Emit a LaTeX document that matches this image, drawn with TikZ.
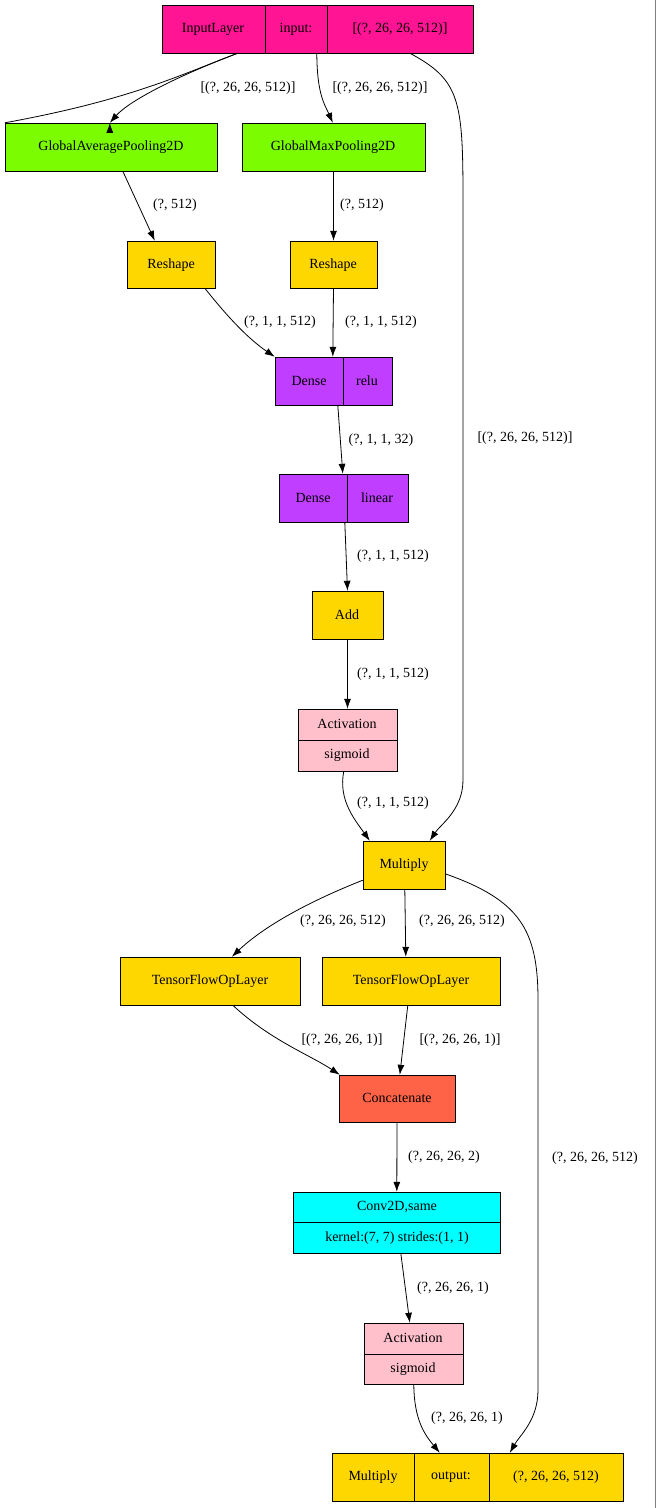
\documentclass[tikz,border=0pt]{standalone}
\usepackage{fontspec}
\setmainfont{Liberation Serif}
\usetikzlibrary{arrows.meta,calc}
\definecolor{cin}{HTML}{FF1493}
\definecolor{cgr}{HTML}{7CFC00}
\definecolor{cgo}{HTML}{FFD700}
\definecolor{cpu}{HTML}{BF3EFF}
\definecolor{cpk}{HTML}{FFC0CB}
\definecolor{cto}{HTML}{FF6347}
\definecolor{ccy}{HTML}{00FFFF}
\newcommand{\bx}[6]{\node[box,fill=#6,minimum width={(#4-#2)*1pt},minimum height={(#5-#3)*1pt}] (#1) at ({(#2+#4)/2},{(#3+#5)/2}) {};}
\newcommand{\tx}[3]{\node[txt] at (#1,#2) {#3};}
\begin{document}
\begin{tikzpicture}[x=1pt,y=-1pt,
  box/.style={draw,inner sep=0pt},
  txt/.style={inner sep=0pt,font=\fontsize{14}{16}\selectfont},
  lab/.style={inner sep=0pt,font=\fontsize{14}{16}\selectfont},
  ar/.style={-{Latex[length=10pt,width=7pt]},line width=0.8pt}]
\useasboundingbox[fill=white] (0,0) rectangle (657,1508);
\draw[gray,line width=1pt] (655,0) -- (655,1508);
% boxes
\bx{in}{162}{5}{473}{53}{cin}
\draw (265,5) -- (265,53) (327,5) -- (327,53);
\tx{213}{29}{InputLayer}\tx{296}{29}{input:}\tx{400}{29}{[(?, 26, 26, 512)]}
\bx{gap}{5}{123}{217}{171}{cgr}\tx{111}{147}{GlobalAveragePooling2D}
\bx{gmp}{242}{123}{425}{171}{cgr}\tx{333}{147}{GlobalMaxPooling2D}
\bx{r1}{127}{241}{215}{288}{cgo}\tx{171}{265}{Reshape}
\bx{r2}{290}{241}{377}{288}{cgo}\tx{333}{265}{Reshape}
\bx{d1}{275}{357}{392}{405}{cpu}\draw (343,357) -- (343,405);
\tx{309}{381}{Dense}\tx{367}{381}{relu}
\bx{d2}{279}{474}{408}{522}{cpu}\draw (347,474) -- (347,522);
\tx{313}{498}{Dense}\tx{377}{498}{linear}
\bx{add}{312}{591}{383}{639}{cgo}\tx{347}{615}{Add}
\bx{a1}{298}{709}{397}{771}{cpk}\draw (298,740) -- (397,740);
\tx{347}{724}{Activation}\tx{347}{755}{sigmoid}
\bx{mul}{363}{841}{445}{889}{cgo}\tx{404}{865}{Multiply}
\bx{t1}{120}{957}{300}{1005}{cgo}\tx{210}{981}{TensorFlowOpLayer}
\bx{t2}{322}{957}{500}{1005}{cgo}\tx{411}{981}{TensorFlowOpLayer}
\bx{cat}{339}{1075}{455}{1122}{cto}\tx{397}{1098}{Concatenate}
\bx{cv}{293}{1192}{500}{1253}{ccy}\draw (293,1222) -- (500,1222);
\tx{397}{1207}{Conv2D,same}\tx{397}{1238}{kernel:(7, 7) strides:(1, 1)}
\bx{a2}{364}{1323}{463}{1384}{cpk}\draw (364,1354) -- (463,1354);
\tx{413}{1338}{Activation}\tx{413}{1369}{sigmoid}
\bx{out}{332}{1453}{623}{1501}{cgo}\draw (414,1453) -- (414,1501) (489,1453) -- (489,1501);
\tx{373}{1477}{Multiply}\tx{451}{1477}{output:}\tx{556}{1477}{(?, 26, 26, 512)}
% edges
\draw[ar] (in.south west)++(76,0) .. controls (180,75) and (130,100) .. (gap.north west)+(105,0);
\draw[ar] ($(in.south west)+(76,0)$) .. controls (180,75) and (130,100) .. ($(gap.north west)+(105,0)$);
\draw[ar] ($(in.south west)+(155,0)$) .. controls (317,95) and (325,105) .. ($(gmp.north west)+(91,0)$);
\draw[ar] ($(in.south west)+(248,0)$) .. controls (460,80) and (463,100) .. (463,200) -- (463,780) .. controls (463,810) and (440,825) .. ($(mul.north west)+(67,0)$);
\draw[ar] ($(gap.south west)+(118,0)$) -- ($(r1.north west)+(28,0)$);
\draw[ar] (gmp.south -| r2.north) -- (r2.north);
\draw[ar] ($(r1.south west)+(78,0)$) .. controls (230,320) and (250,340) .. ($(d1.north west)+(0,0)$);
\draw[ar] (r2.south) -- ($(d1.north west)+(58,0)$);
\draw[ar] ($(d1.south west)+(63,0)$) -- ($(d2.north west)+(64,0)$);
\draw[ar] ($(d2.south west)+(66,0)$) -- (add.north);
\draw[ar] (add.south) -- (a1.north);
\draw[ar] ($(a1.south west)+(46,0)$) .. controls (338,800) and (355,820) .. ($(mul.north west)+(7,0)$);
\draw[ar] ($(mul.south west)+(0,-9)$) .. controls (300,905) and (260,930) .. ($(t1.north west)+(112,0)$);
\draw[ar] ($(mul.south west)+(42,0)$) -- ($(t2.north west)+(84,0)$);
\draw[ar] ($(mul.north east)+(0,33)$) .. controls (520,900) and (538,930) .. (538,1000) -- (538,1390) .. controls (538,1420) and (520,1435) .. ($(out.north west)+(178,0)$);
\draw[ar] ($(t1.south west)+(113,0)$) .. controls (270,1040) and (310,1055) .. ($(cat.north west)+(1,0)$);
\draw[ar] ($(t2.south west)+(86,0)$) -- ($(cat.north west)+(61,0)$);
\draw[ar] (cat.south) -- ($(cv.north west)+(104,0)$);
\draw[ar] ($(cv.south west)+(108,0)$) -- ($(a2.north west)+(46,0)$);
\draw[ar] ($(a2.south west)+(50,0)$) .. controls (414,1420) and (425,1435) .. ($(out.north west)+(108,0)$);
% labels
\node[lab] at (248,88) {[(?, 26, 26, 512)]};
\node[lab] at (380,88) {[(?, 26, 26, 512)]};
\node[lab] at (525,438) {[(?, 26, 26, 512)]};
\node[lab] at (175,205) {(?, 512)};
\node[lab] at (362,205) {(?, 512)};
\node[lab] at (280,322) {(?, 1, 1, 512)};
\node[lab] at (381,322) {(?, 1, 1, 512)};
\node[lab] at (381,440) {(?, 1, 1, 32)};
\node[lab] at (393,556) {(?, 1, 1, 512)};
\node[lab] at (393,674) {(?, 1, 1, 512)};
\node[lab] at (393,803) {(?, 1, 1, 512)};
\node[lab] at (343,921) {(?, 26, 26, 512)};
\node[lab] at (462,921) {(?, 26, 26, 512)};
\node[lab] at (595,1158) {(?, 26, 26, 512)};
\node[lab] at (342,1040) {[(?, 26, 26, 1)]};
\node[lab] at (460,1040) {[(?, 26, 26, 1)]};
\node[lab] at (444,1157) {(?, 26, 26, 2)};
\node[lab] at (453,1288) {(?, 26, 26, 1)};
\node[lab] at (467,1418) {(?, 26, 26, 1)};
\end{tikzpicture}
\end{document}
